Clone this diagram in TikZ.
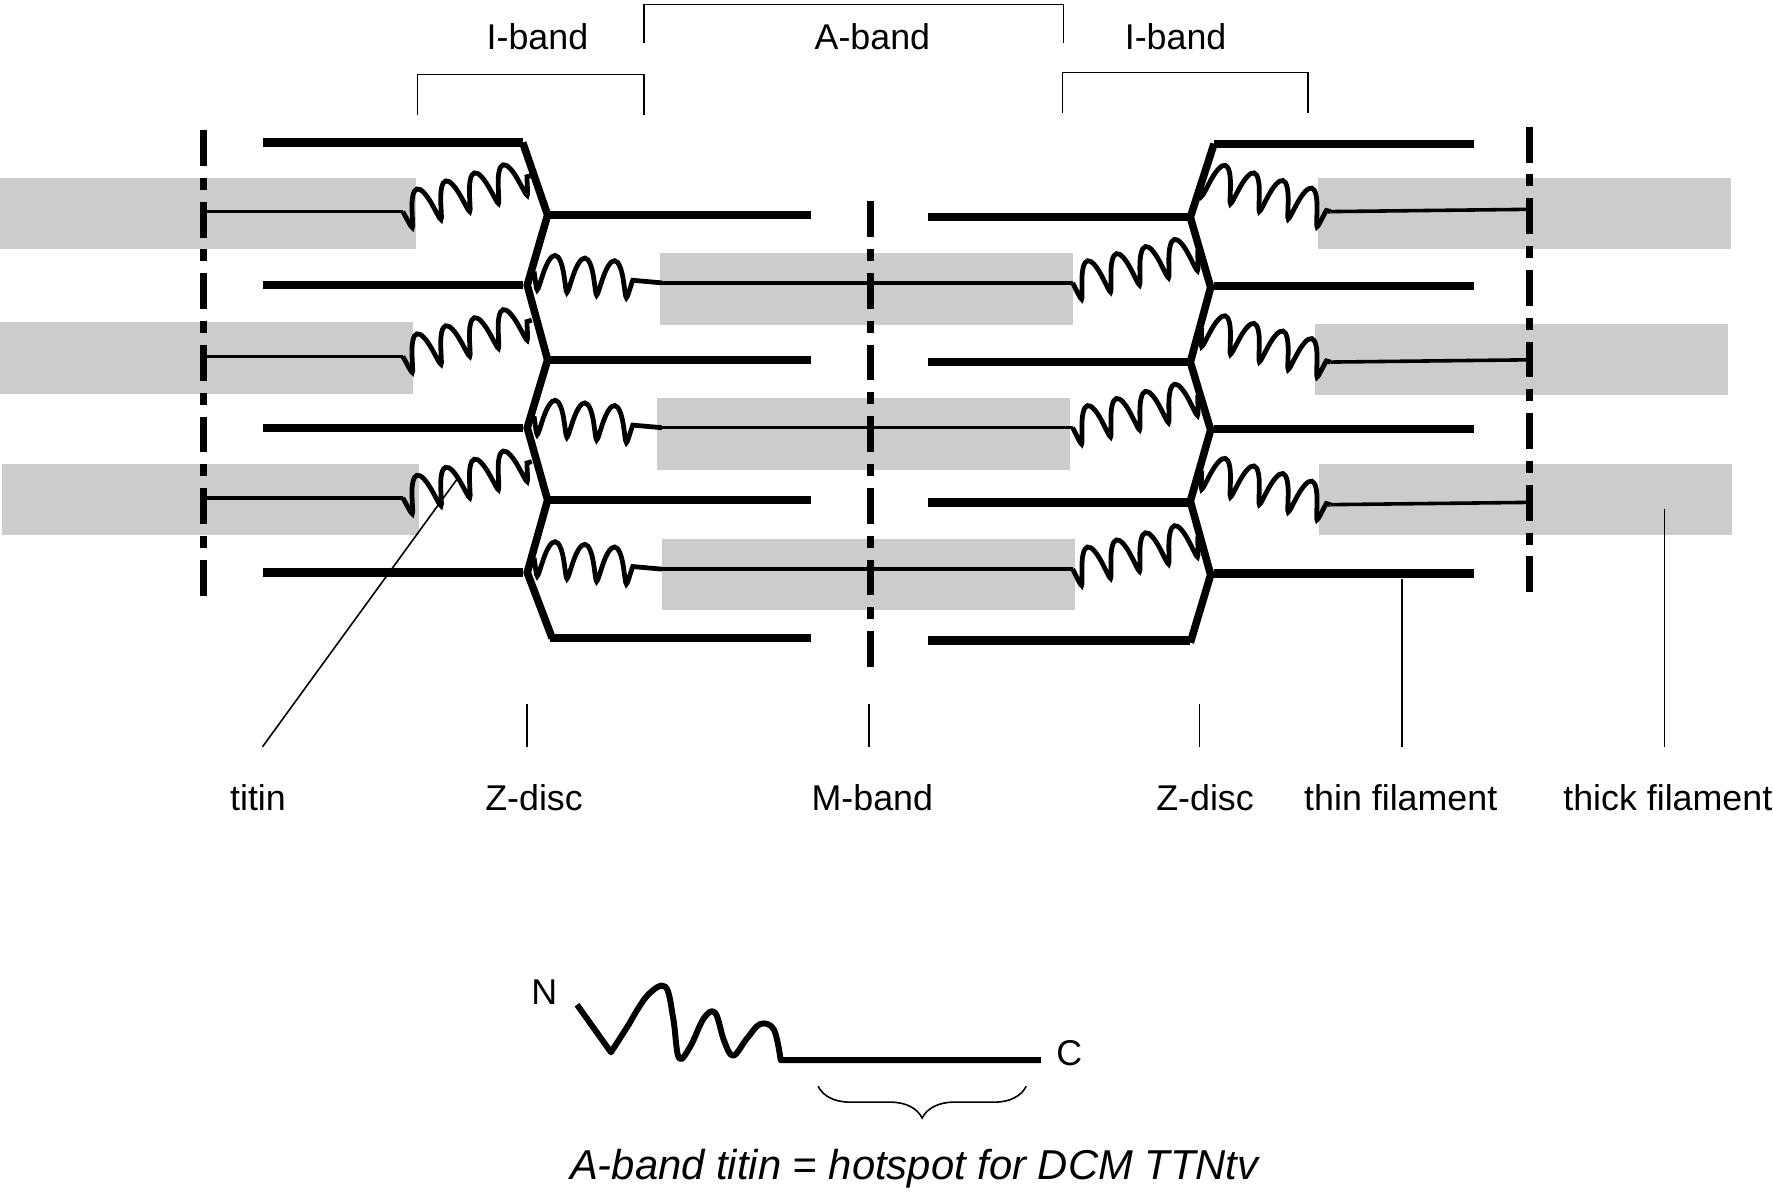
\documentclass[tikz,border=0pt]{standalone}
\usepackage{fontspec}
\setmainfont{Liberation Sans}
\usetikzlibrary{decorations.pathmorphing,decorations.pathreplacing}

\begin{document}
\begin{tikzpicture}[x=0.01cm,y=-0.01cm,
  every node/.style={font=\fontsize{9}{11}\selectfont},
  box/.style={fill=black!20,draw=none},
  fil/.style={line width=2.1pt},
  zdisc/.style={line width=1.9pt,line join=miter},
  tit/.style={line width=0.9pt},
  spring/.style={line width=1.2pt,decorate,decoration={coil,amplitude=-4.5pt,segment length=7.5pt,aspect=0.15}},
  tick/.style={line width=0.4pt},
  zline/.style={line width=1.8pt,dash pattern=on 9pt off 3pt on 3pt off 3pt},
  mline/.style={line width=1.8pt,dash pattern=on 9pt off 3pt on 3pt off 3pt}]
\useasboundingbox (0,0) rectangle (1567,1060);
% grey thick filaments
\foreach \y/\dx in {157/0,285/-3,410/2}
  \fill[box] (0+\dx,\y) rectangle (368+\dx,\y+63);
\foreach \y/\dx in {224/0,352/-2,476/2}
  \fill[box] (583+\dx,\y) rectangle (948+\dx,\y+63);
\foreach \y/\dx in {157/0,286/-3,410/1}
  \fill[box] (1165+\dx,\y) rectangle (1530+\dx,\y+63);
% thin filaments
\foreach \y in {126,252,378,506} {
  \draw[fil] (232,\y) -- (462,\y);
  \draw[fil] (1073,\y+1) -- (1303,\y+1);}
\foreach \y in {190,318,442,564} {
  \draw[fil] (486,\y) -- (717,\y);
  \draw[fil] (820,\y+2) -- (1052,\y+2);}
% Z-discs
\draw[zdisc] (462,126) -- (484,190) -- (466,252) -- (484,318) -- (466,378) -- (484,442) -- (466,506) -- (488,564);
\draw[zdisc] (1073,127) -- (1052,192) -- (1070,254) -- (1052,320) -- (1070,380) -- (1052,443) -- (1070,508) -- (1052,568);
% lines at edges and M-band
\draw[zline] (180,115) -- (180,530);
\draw[zline] (1352,112) -- (1352,527);
\draw[mline] (769,178) -- (769,593);
% titin
\foreach \y in {187,315,440} {
  \draw[tit] (180,\y) -- (356,\y);
  \draw[spring] (356,\y) -- (470,\y-32);}
\foreach \y in {250,378,503} {
  \draw[spring] (472,\y-10) -- (585,\y);
  \draw[tit] (585,\y) -- (948,\y);
  \draw[spring] (948,\y) -- (1062,\y-28);}
\foreach \y in {187,320,446} {
  \draw[spring] (1062,\y-30) -- (1176,\y);
  \draw[tit] (1176,\y) -- (1352,\y-2);}
% brackets
\draw[tick] (369,102) -- (369,66) -- (569,66) -- (569,102);
\draw[tick] (569,38) -- (569,4) -- (940,4) -- (940,38);
\draw[tick] (939,100) -- (939,64) -- (1156,64) -- (1156,100);
\node (ib1) at (475,32) {I-band};
\node (ab) at (771,32) {A-band};
\node (ib2) at (1039,32) {I-band};
% labels
\node (titin) at (228,705) {titin};
\node (zd1) at (472,705) {Z-disc};
\node (mb) at (771,705) {M-band};
\node (zd2) at (1065,705) {Z-disc};
\node (thin) at (1238,705) {thin filament};
\node (thick) at (1474,705) {thick filament};
\draw[tick] (232,660) -- (405,422);
\draw[tick] (466,622) -- (466,660);
\draw[tick] (768,622) -- (768,660);
\draw[tick] (1060,622) -- (1060,660);
\draw[tick] (1239,512) -- (1239,660);
\draw[tick] (1471,450) -- (1471,660);
% single titin
\node (n) at (481,877) {N};
\node (c) at (945,931) {C};
\draw[line width=1.5pt,line join=round] (510,888) -- (540,930) -- (556,905)
  plot[smooth,tension=0.6] coordinates {(556,905) (572,880) (588,872) (595,900) (600,935) (610,925) (622,900) (632,895) (640,920) (648,933) (660,918) (672,905) (684,910) (690,937)}
  -- (920,937);
\draw[tick,decorate,decoration={brace,mirror,amplitude=8pt}] (723,960) -- (907,960);
\node[font=\fontsize{10.5}{13}\selectfont\itshape] (cap) at (808,1033) {A-band titin = hotspot for DCM TTNtv};
\end{tikzpicture}
\end{document}
